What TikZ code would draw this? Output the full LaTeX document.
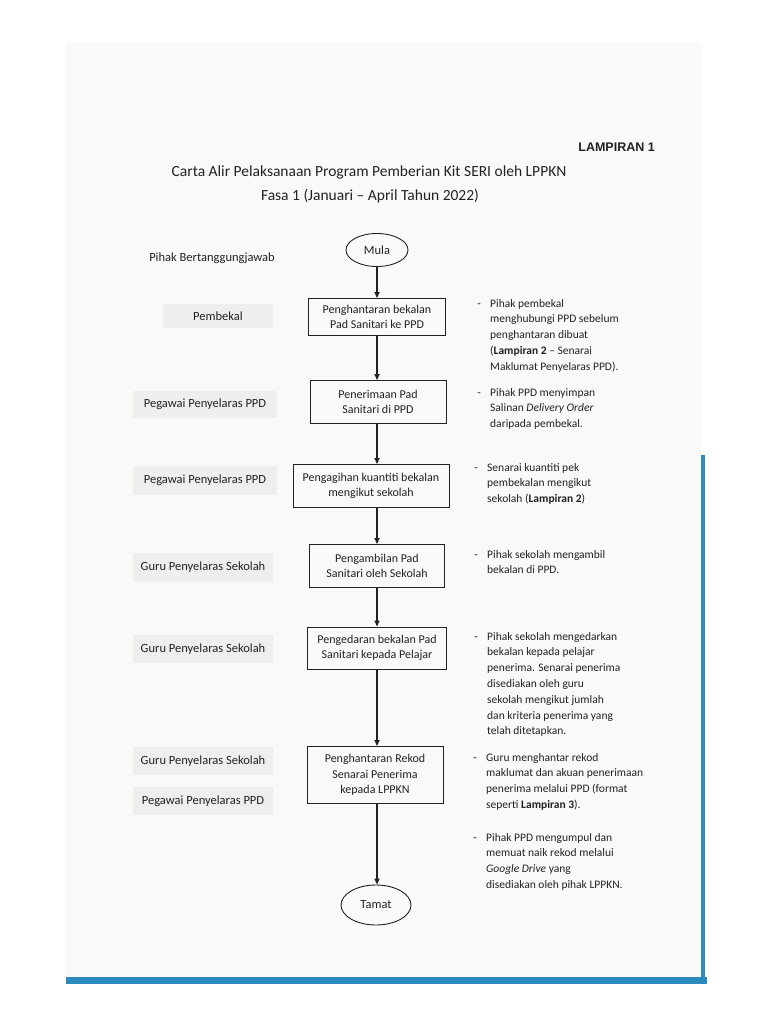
\documentclass[tikz,border=0pt]{standalone}
\usepackage{fontspec}
\setmainfont{Carlito}
\newfontfamily\arialf{Liberation Sans}
\usetikzlibrary{arrows.meta,shapes.geometric}
\definecolor{paper}{HTML}{F9F9F8}
\definecolor{band}{HTML}{EEEEEE}
\definecolor{ink}{HTML}{222222}
\definecolor{edgeblue}{HTML}{2C8BBE}
\tikzset{
  procbox/.style={draw=ink, line width=0.9pt, fill=paper, align=center, inner sep=1pt, text=ink,
    font=\fontsize{12}{15.5}\selectfont},
  termbox/.style={ellipse, draw=ink, line width=0.9pt, fill=paper, inner sep=0pt, text=ink,
    font=\fontsize{12.5}{14}\selectfont},
  roleband/.style={fill=band, text=ink, inner sep=0pt, font=\fontsize{12.5}{14}\selectfont},
  notetext/.style={anchor=north west, align=left, inner sep=0pt, text=ink,
    font=\fontsize{11.5}{15.8}\selectfont},
  dashmark/.style={anchor=north west, inner sep=0pt, text=ink, font=\fontsize{11.5}{15.8}\selectfont},
  flow/.style={draw=ink, line width=1.5pt, -{Triangle[length=6pt,width=5pt]}}
}
\begin{document}
\begin{tikzpicture}[x=1pt,y=-1pt]
\useasboundingbox (0,0) rectangle (768,1024);
\fill[white] (0,0) rectangle (768,1024);
% paper and blue edge behind it
\fill[edgeblue] (66,977) rectangle (707,984);
\fill[edgeblue] (701,455) rectangle (705,984);
\fill[paper] (66,42) rectangle (701,977);

% headings
\node[anchor=east, inner sep=0pt, text=ink, font=\arialf\bfseries\fontsize{12.5}{14}\selectfont] (lamp) at (655,147) {LAMPIRAN 1};
\node[inner sep=0pt, text=ink, font=\fontsize{15.5}{18}\selectfont] (title1) at (369,172) {Carta Alir Pelaksanaan Program Pemberian Kit SERI oleh LPPKN};
\node[inner sep=0pt, text=ink, font=\fontsize{15.5}{18}\selectfont] (title2) at (370,196) {Fasa 1 (Januari -- April Tahun 2022)};

% responsible parties
\node[inner sep=0pt, text=ink, font=\fontsize{12.5}{14}\selectfont] (pihak) at (212,258) {Pihak Bertanggungjawab};
\node[roleband, minimum width=110, minimum height=24] (r1) at (218,316) {Pembekal};
\node[roleband, minimum width=144, minimum height=27] (r2) at (205,404) {Pegawai Penyelaras PPD};
\node[roleband, minimum width=144, minimum height=29] (r3) at (205,480) {Pegawai Penyelaras PPD};
\node[roleband, minimum width=140, minimum height=29] (r4) at (203,567) {Guru Penyelaras Sekolah};
\node[roleband, minimum width=140, minimum height=28] (r5) at (203,649) {Guru Penyelaras Sekolah};
\node[roleband, minimum width=140, minimum height=28] (r6a) at (203,761) {Guru Penyelaras Sekolah};
\node[roleband, minimum width=140, minimum height=28] (r6b) at (203,801) {Pegawai Penyelaras PPD};

% flow nodes
\node[termbox, minimum width=62, minimum height=33] (mula) at (377,250) {Mula};
\node[procbox, minimum width=137, minimum height=37] (b1) at (377,317) {Penghantaran bekalan\\Pad Sanitari ke PPD};
\node[procbox, minimum width=136, minimum height=43] (b2) at (378,402) {Penerimaan Pad\\Sanitari di PPD};
\node[procbox, minimum width=156, minimum height=43] (b3) at (371,486) {Pengagihan kuantiti bekalan\\mengikut sekolah};
\node[procbox, minimum width=135, minimum height=43] (b4) at (377,566) {Pengambilan Pad\\Sanitari oleh Sekolah};
\node[procbox, minimum width=139, minimum height=42] (b5) at (377,648) {Pengedaran bekalan Pad\\Sanitari kepada Pelajar};
\node[procbox, minimum width=136, minimum height=57] (b6) at (375,775) {Penghantaran Rekod\\Senarai Penerima\\kepada LPPKN};
\node[termbox, minimum width=70, minimum height=40] (tamat) at (376,905) {Tamat};

% connectors
\draw[flow] (mula.south) -- (mula.south |- b1.north);
\draw[flow] (b1.south -| mula.south) -- (mula.south |- b2.north);
\draw[flow] (b2.south -| mula.south) -- (mula.south |- b3.north);
\draw[flow] (b3.south -| mula.south) -- (mula.south |- b4.north);
\draw[flow] (b4.south -| mula.south) -- (mula.south |- b5.north);
\draw[flow] (b5.south -| mula.south) -- (mula.south |- b6.north);
\draw[flow] (b6.south -| mula.south) -- (mula.south |- tamat.north);

% notes
\node[notetext] (n1) at (490,299) {Pihak pembekal\\menghubungi PPD sebelum\\penghantaran dibuat\\(\textbf{Lampiran 2} -- Senarai\\Maklumat Penyelaras PPD).};
\node[dashmark, anchor=north east] (d1) at ([xshift=-9pt]n1.north west) {\vphantom{Ph}-};
\node[notetext] (n2) at (490,388) {Pihak PPD menyimpan\\Salinan \textit{Delivery Order}\\daripada pembekal.};
\node[dashmark, anchor=north east] (d2) at ([xshift=-9pt]n2.north west) {\vphantom{Ph}-};
\node[notetext] (n3) at (487,463) {Senarai kuantiti pek\\pembekalan mengikut\\sekolah (\textbf{Lampiran 2})};
\node[dashmark, anchor=north east] (d3) at ([xshift=-9pt]n3.north west) {\vphantom{Ph}-};
\node[notetext] (n4) at (487,550) {Pihak sekolah mengambil\\bekalan di PPD.};
\node[dashmark, anchor=north east] (d4) at ([xshift=-9pt]n4.north west) {\vphantom{Ph}-};
\node[notetext] (n5) at (487,632) {Pihak sekolah mengedarkan\\bekalan kepada pelajar\\penerima. Senarai penerima\\disediakan oleh guru\\sekolah mengikut jumlah\\dan kriteria penerima yang\\telah ditetapkan.};
\node[dashmark, anchor=north east] (d5) at ([xshift=-9pt]n5.north west) {\vphantom{Ph}-};
\node[notetext] (n6) at (486,753) {Guru menghantar rekod\\maklumat dan akuan penerimaan\\penerima melalui PPD (format\\seperti \textbf{Lampiran 3}).};
\node[dashmark, anchor=north east] (d6) at ([xshift=-9pt]n6.north west) {\vphantom{Ph}-};
\node[notetext] (n7) at (486,833) {Pihak PPD mengumpul dan\\memuat naik rekod melalui\\\textit{Google Drive} yang\\disediakan oleh pihak LPPKN.};
\node[dashmark, anchor=north east] (d7) at ([xshift=-9pt]n7.north west) {\vphantom{Ph}-};
\end{tikzpicture}
\end{document}
